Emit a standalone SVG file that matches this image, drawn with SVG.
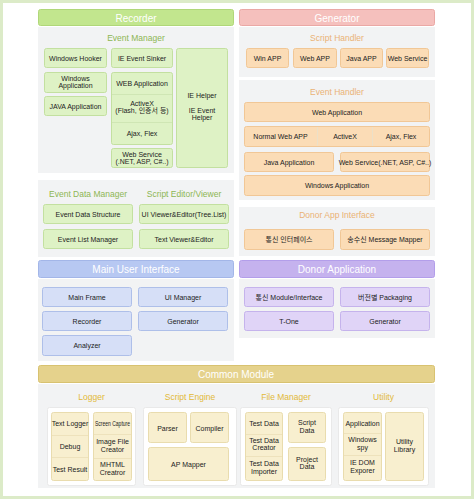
<svg xmlns="http://www.w3.org/2000/svg" width="474" height="500" viewBox="0 0 474 500">
<style>
text{font-family:"Liberation Sans","Noto Sans CJK KR",sans-serif;fill:#222;font-size:7px;text-anchor:middle}
.hd{fill:#fff;font-size:10px}
.panel{fill:#f2f3f4}
.wp{fill:#fff;stroke:#e9e9e9;stroke-width:1}
.gh{fill:#c2e68e;stroke:#b0d779}
.gb{fill:#def2c5;stroke:#c3e0a0}
.gt{fill:#8db653;font-size:8.5px}
.ph{fill:#f5c0bd;stroke:#eaa8a5}
.pb{fill:#fbdcb6;stroke:#f1c796}
.pt{fill:#eab274;font-size:8.5px}
.bh{fill:#b7c8f2;stroke:#a3b6e8}
.bb{fill:#d6dff7;stroke:#aebfe9}
.vh{fill:#c5b2ee;stroke:#b39eea}
.vb{fill:#e0d4f7;stroke:#c5b3ec}
.yh{fill:#e5d28c;stroke:#d8c270}
.yb{fill:#f8efcf;stroke:#e9dcae}
.yt{fill:#e2b937;font-size:8.5px}
.dv{stroke:#ece0c8;stroke-width:1}
.dg{stroke:#cfe6b4;stroke-width:1}
.dy{stroke:#eee2bc;stroke-width:1}
</style>
<rect x="1.5" y="1.5" width="471" height="496" fill="#fff" stroke="#dcebc8" stroke-width="3"/>

<!-- Recorder -->
<g id="recorder">
<rect class="gh" x="38.5" y="9.5" width="195" height="16" rx="2"/>
<text class="hd" x="136" y="21.5">Recorder</text>
<rect class="panel" x="38" y="27" width="196" height="146"/>
<text class="gt" x="136" y="41">Event Manager</text>
<rect class="panel" x="38" y="180" width="196" height="77"/>
<text class="gt" x="88" y="197">Event Data Manager</text>
<text class="gt" x="184" y="197">Script Editor/Viewer</text>
</g>
<g id="windows-hooker"><rect class="gb" x="44.5" y="48.5" width="62" height="19" rx="2"/><text x="75.5" y="60.5">Windows Hooker</text></g>
<g id="windows-application-rec"><rect class="gb" x="44.5" y="72.5" width="62" height="20" rx="2"/><text x="75.5" y="80.5">Windows</text><text x="75.5" y="88">Application</text></g>
<g id="java-application-rec"><rect class="gb" x="44.5" y="96.5" width="62" height="19" rx="2"/><text x="75.5" y="108.5">JAVA Application</text></g>
<g id="ie-event-sinker"><rect class="gb" x="111.5" y="48.5" width="61" height="19" rx="2"/><text x="142" y="60.5">IE Event Sinker</text></g>
<g id="web-app-group-rec"><rect class="gb" x="111.5" y="72.5" width="61" height="72" rx="2"/>
<line class="dg" x1="112" y1="94.5" x2="172" y2="94.5"/><line class="dg" x1="112" y1="122.5" x2="172" y2="122.5"/>
<text x="142" y="86">WEB Application</text><text x="142" y="105.5">ActiveX</text><text x="142" y="113">(Flash, 인증서 등)</text><text x="142" y="136">Ajax, Flex</text></g>
<g id="web-service-rec"><rect class="gb" x="111.5" y="148.5" width="61" height="19" rx="2"/><text x="142" y="156.5">Web Service</text><text x="142" y="164">(.NET, ASP, C#..)</text></g>
<g id="ie-helper"><rect class="gb" x="176.5" y="48.5" width="51" height="119" rx="2"/><text x="202" y="98">IE Helper</text><text x="202" y="112.5">IE Event</text><text x="202" y="120">Helper</text></g>
<g id="event-data-structure"><rect class="gb" x="43.5" y="204.5" width="89" height="19" rx="2"/><text x="88" y="216.5">Event Data Structure</text></g>
<g id="event-list-manager"><rect class="gb" x="43.5" y="229.5" width="89" height="19" rx="2"/><text x="88" y="241.5">Event List Manager</text></g>
<g id="ui-viewer-editor"><rect class="gb" x="139.5" y="204.5" width="89" height="19" rx="2"/><text x="184" y="216.5">UI Viewer&amp;Editor(Tree.List)</text></g>
<g id="text-viewer-editor"><rect class="gb" x="139.5" y="229.5" width="89" height="19" rx="2"/><text x="184" y="241.5">Text Viewer&amp;Editor</text></g>

<!-- Generator -->
<g id="generator">
<rect class="ph" x="239.5" y="9.5" width="195" height="16" rx="2"/>
<text class="hd" x="337" y="21.5">Generator</text>
<rect class="panel" x="239" y="27" width="196" height="50"/>
<text class="pt" x="337" y="41">Script Handler</text>
<rect class="panel" x="239" y="80" width="196" height="120"/>
<text class="pt" x="337" y="95">Event Handler</text>
<rect class="panel" x="239" y="207" width="196" height="49"/>
<text class="pt" x="337" y="218">Donor App Interface</text>
</g>
<g id="win-app"><rect class="pb" x="246.5" y="48.5" width="42" height="19" rx="2"/><text x="267.5" y="60.5">Win APP</text></g>
<g id="web-app"><rect class="pb" x="293.5" y="48.5" width="43" height="19" rx="2"/><text x="315" y="60.5">Web APP</text></g>
<g id="java-app"><rect class="pb" x="340.5" y="48.5" width="42" height="19" rx="2"/><text x="361.5" y="60.5">Java APP</text></g>
<g id="web-service-app"><rect class="pb" x="386.5" y="48.5" width="42" height="19" rx="2"/><text x="407.5" y="60.5">Web Service</text></g>
<g id="web-application-gen"><rect class="pb" x="244.5" y="102.5" width="185" height="19" rx="2"/><text x="337" y="114.5">Web Application</text></g>
<g id="web-types-gen"><rect class="pb" x="244.5" y="126.5" width="185" height="20" rx="2"/>
<line class="dv" x1="317.5" y1="127" x2="317.5" y2="146"/><line class="dv" x1="372.5" y1="127" x2="372.5" y2="146"/>
<text x="280.5" y="139">Normal Web APP</text><text x="345" y="139">ActiveX</text><text x="401" y="139">Ajax, Flex</text></g>
<g id="java-application-gen"><rect class="pb" x="244.5" y="152.5" width="89" height="19" rx="2"/><text x="289" y="164.5">Java Application</text></g>
<g id="web-service-gen"><rect class="pb" x="340.5" y="152.5" width="89" height="19" rx="2"/><text x="385" y="164.5">Web Service(.NET, ASP, C#..)</text></g>
<g id="windows-application-gen"><rect class="pb" x="244.5" y="175.5" width="185" height="20" rx="2"/><text x="337" y="188">Windows Application</text></g>
<g id="comm-interface"><rect class="pb" x="244.5" y="229.5" width="89" height="20" rx="2"/><text x="289" y="242">통신 인터페이스</text></g>
<g id="message-mapper"><rect class="pb" x="340.5" y="229.5" width="89" height="20" rx="2"/><text x="385" y="242">송수신 Message Mapper</text></g>

<!-- Main User Interface -->
<g id="main-user-interface">
<rect class="bh" x="38.5" y="260.5" width="195" height="17" rx="2"/>
<text class="hd" x="136" y="272.5">Main User Interface</text>
<rect class="panel" x="38" y="279" width="196" height="82"/>
</g>
<g id="main-frame"><rect class="bb" x="42.5" y="287.5" width="89" height="19" rx="2"/><text x="87" y="299.5">Main Frame</text></g>
<g id="ui-manager"><rect class="bb" x="138.5" y="287.5" width="89" height="19" rx="2"/><text x="183" y="299.5">UI Manager</text></g>
<g id="mui-recorder"><rect class="bb" x="42.5" y="311.5" width="89" height="19" rx="2"/><text x="87" y="323.5">Recorder</text></g>
<g id="mui-generator"><rect class="bb" x="138.5" y="311.5" width="89" height="19" rx="2"/><text x="183" y="323.5">Generator</text></g>
<g id="analyzer"><rect class="bb" x="42.5" y="335.5" width="89" height="20" rx="2"/><text x="87" y="348">Analyzer</text></g>

<!-- Donor Application -->
<g id="donor-application">
<rect class="vh" x="239.5" y="260.5" width="195" height="17" rx="2"/>
<text class="hd" x="337" y="272.5">Donor Application</text>
<rect class="panel" x="239" y="279" width="196" height="59"/>
</g>
<g id="comm-module"><rect class="vb" x="244.5" y="287.5" width="89" height="19" rx="2"/><text x="289" y="299.5">통신 Module/Interface</text></g>
<g id="packaging"><rect class="vb" x="340.5" y="287.5" width="89" height="19" rx="2"/><text x="385" y="299.5">버전별 Packaging</text></g>
<g id="t-one"><rect class="vb" x="244.5" y="311.5" width="89" height="19" rx="2"/><text x="289" y="323.5">T-One</text></g>
<g id="donor-generator"><rect class="vb" x="340.5" y="311.5" width="89" height="19" rx="2"/><text x="385" y="323.5">Generator</text></g>

<!-- Common Module -->
<g id="common-module">
<rect class="yh" x="38.5" y="365.5" width="396" height="17" rx="2"/>
<text class="hd" x="236" y="377.5">Common Module</text>
<rect class="panel" x="38" y="384" width="397" height="104"/>
<text class="yt" x="91.5" y="400">Logger</text>
<text class="yt" x="190" y="400">Script Engine</text>
<text class="yt" x="286" y="400">File Manager</text>
<text class="yt" x="383.5" y="400">Utility</text>
<rect class="wp" x="47.5" y="407.5" width="88" height="78" rx="2"/>
<rect class="wp" x="143.5" y="407.5" width="93" height="78" rx="2"/>
<rect class="wp" x="240.5" y="407.5" width="91" height="78" rx="2"/>
<rect class="wp" x="338.5" y="407.5" width="90" height="78" rx="2"/>
</g>
<g id="logger-col1"><rect class="yb" x="51.5" y="412.5" width="37" height="68" rx="2"/>
<line class="dy" x1="52" y1="435.5" x2="88" y2="435.5"/><line class="dy" x1="52" y1="457.5" x2="88" y2="457.5"/>
<text x="70" y="426">Text Logger</text><text x="70" y="448.5">Debug</text><text x="70" y="471.5">Test Result</text></g>
<g id="logger-col2"><rect class="yb" x="93.5" y="412.5" width="38" height="68" rx="2"/>
<line class="dy" x1="94" y1="434.5" x2="131" y2="434.5"/><line class="dy" x1="94" y1="458.5" x2="131" y2="458.5"/>
<text x="112.5" y="425.5" textLength="35" lengthAdjust="spacingAndGlyphs">Screen Capture</text>
<text x="112.5" y="444">Image File</text><text x="112.5" y="451.5">Creator</text>
<text x="112.5" y="467">MHTML</text><text x="112.5" y="474.5">Creatror</text></g>
<g id="parser"><rect class="yb" x="148.5" y="412.5" width="38" height="30" rx="2"/><text x="167.5" y="430.5">Parser</text></g>
<g id="compiler"><rect class="yb" x="190.5" y="412.5" width="38" height="30" rx="2"/><text x="209.5" y="430.5">Compiler</text></g>
<g id="ap-mapper"><rect class="yb" x="148.5" y="447.5" width="80" height="33" rx="2"/><text x="188.5" y="466.5">AP Mapper</text></g>
<g id="file-col"><rect class="yb" x="245.5" y="412.5" width="37" height="68" rx="2"/>
<line class="dy" x1="246" y1="434.5" x2="282" y2="434.5"/><line class="dy" x1="246" y1="456.5" x2="282" y2="456.5"/>
<text x="264" y="426">Test Data</text>
<text x="264" y="442.5">Test Data</text><text x="264" y="450">Creator</text>
<text x="264" y="466">Test Data</text><text x="264" y="473.5">Importer</text></g>
<g id="script-data"><rect class="yb" x="288.5" y="412.5" width="37" height="30" rx="2"/><text x="307" y="425">Script</text><text x="307" y="432.5">Data</text></g>
<g id="project-data"><rect class="yb" x="288.5" y="447.5" width="37" height="33" rx="2"/><text x="307" y="461.5">Project</text><text x="307" y="469">Data</text></g>
<g id="utility-col"><rect class="yb" x="343.5" y="412.5" width="38" height="68" rx="2"/>
<line class="dy" x1="344" y1="433.5" x2="381" y2="433.5"/><line class="dy" x1="344" y1="455.5" x2="381" y2="455.5"/>
<text x="362.5" y="425.5">Application</text>
<text x="362.5" y="442">Windows</text><text x="362.5" y="449.5">spy</text>
<text x="362.5" y="465">IE DOM</text><text x="362.5" y="472.5">Exporer</text></g>
<g id="utility-library"><rect class="yb" x="385.5" y="412.5" width="38" height="68" rx="2"/><text x="404.5" y="444">Utility</text><text x="404.5" y="451.5">Library</text></g>
<g id="connectors"></g>
</svg>
